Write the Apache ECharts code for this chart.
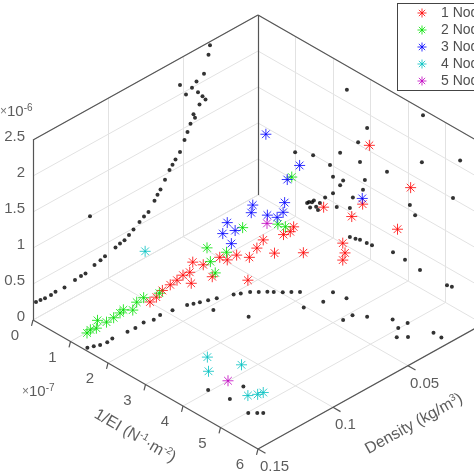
<!DOCTYPE html>
<html>
<head>
<meta charset="utf-8">
<script src="https://cdn.jsdelivr.net/npm/echarts@6/dist/echarts.min.js"></script>
<style>html,body{margin:0;padding:0;background:#fff}#chart{width:474px;height:474px}</style>
</head>
<body>
<div id="chart"></div>
<script>
// Data: [1/EI (x1e-7), density (kg/m3), deflection (x1e-6)]
const node1 = [[1.96,.121,.5],[1.93,.116,.5],[1.85,.11,.5],[1.82,.104,.5],[1.8,.099,.5],[1.76,.094,.5],[1.78,.09,.5],[1.58,.083,.5],[2.06,.096,.5],[1.78,.081,.5],[2.18,.085,.5],[1.82,.071,.5],[1.98,.07,.5],[1.99,.064,.5],[2.73,.075,.5],[2.21,.061,.5],[2.09,.053,.5],[1.98,.046,.5],[2.44,.05,.5],[2.12,.036,.5],[2.14,.032,.5],[2.07,.028,.5],[2.81,.04,.5],[3.1,.021,.5],[3.36,.026,.5],[3.5,.031,.5],[3.19,.036,1.2],[3.78,.032,1.2],[3.63,.021,1.2],[4.68,.024,1.2],[3.69,.018,2.0],[4.55,.012,1.6]];
const node2 = [[1.44,.15,.25],[1.41,.147,.25],[1.45,.144,.25],[1.28,.139,.25],[1.44,.137,.25],[1.43,.132,.25],[1.4,.127,.25],[1.37,.124,.25],[1.5,.121,.25],[1.365,.115,.25],[1.35,.11,.25],[1.45,.102,.25],[2.28,.091,1],[2.65,.098,1],[2.98,.103,1],[2.64,.087,1],[2.27,.067,1],[2.65,.053,1],[2.81,.052,1],[2.74,.046,1.6]];
const node3 = [[2.41,.055,2.2],[2.91,.045,1.8],[2.74,.049,1.6],[2.91,.055,1.4],[2.38,.063,1.3],[2.54,.068,1.3],[2.81,.064,1.3],[2.99,.062,1.3],[2.95,.057,1.3],[2.46,.082,1.3],[2.66,.09,1.3],[2.75,.084,1.3],[3.01,.093,1.3],[3.66,.022,1.3]];
const node4 = [[3.93,.132,.45],[4.28,.14,.45],[4.56,.125,.45],[5.37,.141,.45],[5.47,.137,.45],[5.5,.134,.45],[1.55,.114,1.0]];
const node5 = [[4.76,.139,.45],[3.0,.069,1.3]];
// black projections on the left wall (1/EI = 0): [density, deflection]
const wallLeft = [[.148,.227],[.142,.21],[.135,.22],[.129,.21],[.122,.23],[.115,.24],[.109,.29],[.102,.33],[.095,.37],[.089,.40],[.083,.48],[.079,.54],[.073,.61],[.069,.72],[.065,.83],[.062,.93],[.059,1.03],[.055,1.13],[.052,1.2],[.049,1.33],[.045,1.51],[.042,1.56],[.039,1.71],[.035,1.73],[.040,1.89],[.044,2.0],[.032,2.45],[.033,2.33],[.052,2.13],[.112,1.0],[.145,.22],[.138,.21],[.118,.24],[.105,.31],[.092,.39],[.086,.44],[.076,.58],[.067,.78],[.057,1.08],[.047,1.42],[.043,1.62],[.037,1.8],[.041,2.05],[.048,1.95],[.036,2.1]];
// black projections on the right wall (density = 0): [1/EI, deflection]
const wallRight = [[.99,.89],[1.47,.99],[1.92,.99],[2.19,1.24],[2.0,.85],[2.27,.88],[2.37,2.17],[2.67,1.53],[2.91,1.8],[2.72,1.27],[2.85,1.06],[2.8,.91],[3.44,1.35],[4.37,1.76],[4.4,2.42],[5.39,2.09],[5.2,1.51],[4.05,1.07],[4.19,.97],[1.31,.28],[1.44,.33],[1.55,.30],[1.65,.38],[1.39,.24],[1.49,.37],[1.36,.31],[1.6,.27],[1.79,.5],[2.0,.62],[2.19,.79],[2.53,.72],[2.45,.55],[2.1,.46],[2.45,.15],[2.72,.19],[3.04,.21],[3.6,.28],[3.92,.27],[4.32,.25],[5.04,.25],[5.17,.27],[2.6,.17],[2.9,.2]];
// black projections on the floor (deflection = 0): [1/EI, density]
const floorPts = [[1.37,.148],[1.47,.142],[1.475,.134],[1.52,.125],[1.51,.114],[1.55,.104],[1.6,.097],[1.67,.089],[1.77,.083],[1.9,.075],[2.03,.067],[2.19,.06],[2.41,.054],[2.62,.049],[2.84,.043],[2.13,.083],[2.75,.075],[3.26,.051],[3.38,.041],[3.28,.032],[3.6,.031],[4.07,.045],[4.08,.039],[4.31,.035],[4.71,.028],[4.98,.031],[4.99,.025],[5.18,.037],[5.32,.033],[5.56,.022],[5.77,.022],[3.95,.132],[4.45,.13],[5.02,.132],[5.14,.129],[5.22,.127],[4.33,.118],[1.42,.145],[1.5,.138],[1.53,.12],[1.58,.109],[1.72,.086],[1.83,.079],[2.1,.064],[2.3,.057],[2.5,.052],[2.73,.046]];
const zTicks = [0, 0.5, 1, 1.5, 2, 2.5];
const eTicks = [0, 1, 2, 3, 4, 5, 6];
const dTicks = [0.05, 0.1, 0.15];
const legendNames = ['1 Node', '2 Node', '3 Node', '4 Node', '5 Node'];
const nodeColors = ['#ff0000', '#00e000', '#0000ff', '#00c0c0', '#c000c0'];

// projection of the MATLAB 3D view onto a pixel-like plane
const L0 = [33, 320];
function proj(e, d, z) {
    const s = (0.15 - d) / 0.15;
    return [L0[0] + 37.5 * e + 225 * s, L0[1] + 21.5 * e - 125 * s - 72 * z];
}

const chart = echarts.init(document.getElementById('chart'));
const star = 'path://M0,-10L0,10M-10,0L10,0M-7,-7L7,7M-7,7L7,-7';

const segs = (list) => list.map(([a, b]) => ({ coords: [a, b] }));
const grid = [], box = [], tickMarks = [];
zTicks.forEach(z => {
    grid.push([proj(0, 0.15, z), proj(0, 0, z)]);
    grid.push([proj(0, 0, z), proj(6, 0, z)]);
});
eTicks.forEach(e => {
    grid.push([proj(e, 0.15, 0), proj(e, 0, 0)]);
    grid.push([proj(e, 0, 0), proj(e, 0, 2.5)]);
    tickMarks.push([proj(e, 0.15, 0), proj(e + 0.12, 0.15 + 0.004, 0)]);
});
[0.05, 0.1].forEach(d => {
    grid.push([proj(0, d, 0), proj(6, d, 0)]);
    grid.push([proj(0, d, 0), proj(0, d, 2.5)]);
});
dTicks.forEach(d => tickMarks.push([proj(6, d, 0), proj(6.2, d, 0)]));
box.push([proj(0, 0.15, 0), proj(6, 0.15, 0)], [proj(6, 0.15, 0), proj(6, 0, 0)],
    [proj(0, 0.15, 0), proj(0, 0.15, 2.5)], [proj(0, 0, 0), proj(0, 0, 2.5)],
    [proj(0, 0.15, 2.5), proj(0, 0, 2.5)], [proj(0, 0, 2.5), proj(6, 0, 2.5)]);

const labelPts = [];
zTicks.forEach(z => { const p = proj(0, 0.15, z); labelPts.push({ value: [p[0] - 8, p[1] - 3], t: String(z), align: 'right' }); });
eTicks.forEach(e => { const p = proj(e, 0.15, 0); labelPts.push({ value: [p[0] - 18, p[1] + 16], t: String(e), align: 'center' }); });
dTicks.forEach(d => { const p = proj(6, d, 0); labelPts.push({ value: [p[0] + 2, p[1] + 18], t: String(d), align: 'left' }); });

const font = 'Arial, "Liberation Sans", sans-serif';
const textSeries = {
    type: 'scatter', symbolSize: 0, z: 5,
    data: labelPts.map(o => ({ value: o.value, label: { formatter: o.t, align: o.align } })),
    label: { show: true, position: 'inside', color: '#333', fontSize: 15, fontFamily: font, verticalAlign: 'middle' }
};
const extraText = [
    { value: [0, 112], label: { formatter: '{s|×}10{u|-6}', align: 'left' } },
    { value: [22, 392], label: { formatter: '{s|×}10{u|-7}', align: 'left' } },
    { value: [135, 436], label: { formatter: '1/EI (N{u|-1}·m{u|-2})', rotate: -30, fontSize: 16 } },
    { value: [414, 424], label: { formatter: 'Density (kg/m{u|3})', rotate: 29, fontSize: 16 } }
];
const extraSeries = {
    type: 'scatter', symbolSize: 0, z: 5,
    data: extraText,
    label: {
        show: true, position: 'inside', color: '#333', fontSize: 15, fontFamily: font,
        rich: { u: { fontSize: 10, verticalAlign: 'top', color: '#333', padding: [0, 0, 8, 0] }, s: { fontSize: 12, color: '#555' } }
    }
};

const legendSeries = {
    type: 'scatter', z: 10, symbol: star, symbolSize: 9,
    data: legendNames.map((n, i) => ({
        value: [422, 13 + i * 17],
        itemStyle: { color: 'none', borderColor: nodeColors[i], borderWidth: 1 },
        label: { show: true, formatter: n, position: 'right', distance: 12, color: '#222', fontSize: 14, fontFamily: font }
    }))
};

const nodeSeries = [node1, node2, node3, node4, node5].map((arr, i) => ({
    type: 'scatter', symbol: star, symbolSize: 11, z: 4,
    itemStyle: { color: 'none', borderColor: nodeColors[i], borderWidth: 1 },
    data: arr.map(p => proj(p[0], p[1], p[2]))
}));

const dots = [].concat(
    wallLeft.map(p => proj(0, p[0], p[1])),
    wallRight.map(p => proj(p[0], 0, p[1])),
    floorPts.map(p => proj(p[0], p[1], 0))
);

chart.setOption({
    animation: false,
    grid: { left: 0, right: 0, top: 0, bottom: 0 },
    xAxis: { type: 'value', min: 0, max: 474, show: false },
    yAxis: { type: 'value', min: 0, max: 474, inverse: true, show: false },
    series: [
        { type: 'lines', coordinateSystem: 'cartesian2d', z: 1, lineStyle: { color: '#e2e2e2', width: 1, opacity: 1 }, data: segs(grid) },
        { type: 'lines', coordinateSystem: 'cartesian2d', z: 2, lineStyle: { color: '#555', width: 1.2, opacity: 1 }, data: segs(box.concat(tickMarks)) },
        { type: 'scatter', symbol: 'circle', symbolSize: 4, z: 3, itemStyle: { color: '#000' }, data: dots },
        ...nodeSeries,
        { type: 'lines', coordinateSystem: 'cartesian2d', z: 9, lineStyle: { color: '#444', width: 1, opacity: 1 },
          data: segs([[[397, 3], [480, 3]], [[397, 3], [397, 90]], [[397, 90], [480, 90]]]) },
        { type: 'scatter', symbol: 'rect', symbolSize: [80, 86], z: 8, itemStyle: { color: '#fff' }, data: [[437, 46.5]] },
        legendSeries,
        textSeries,
        extraSeries
    ]
});
</script>
</body>
</html>
